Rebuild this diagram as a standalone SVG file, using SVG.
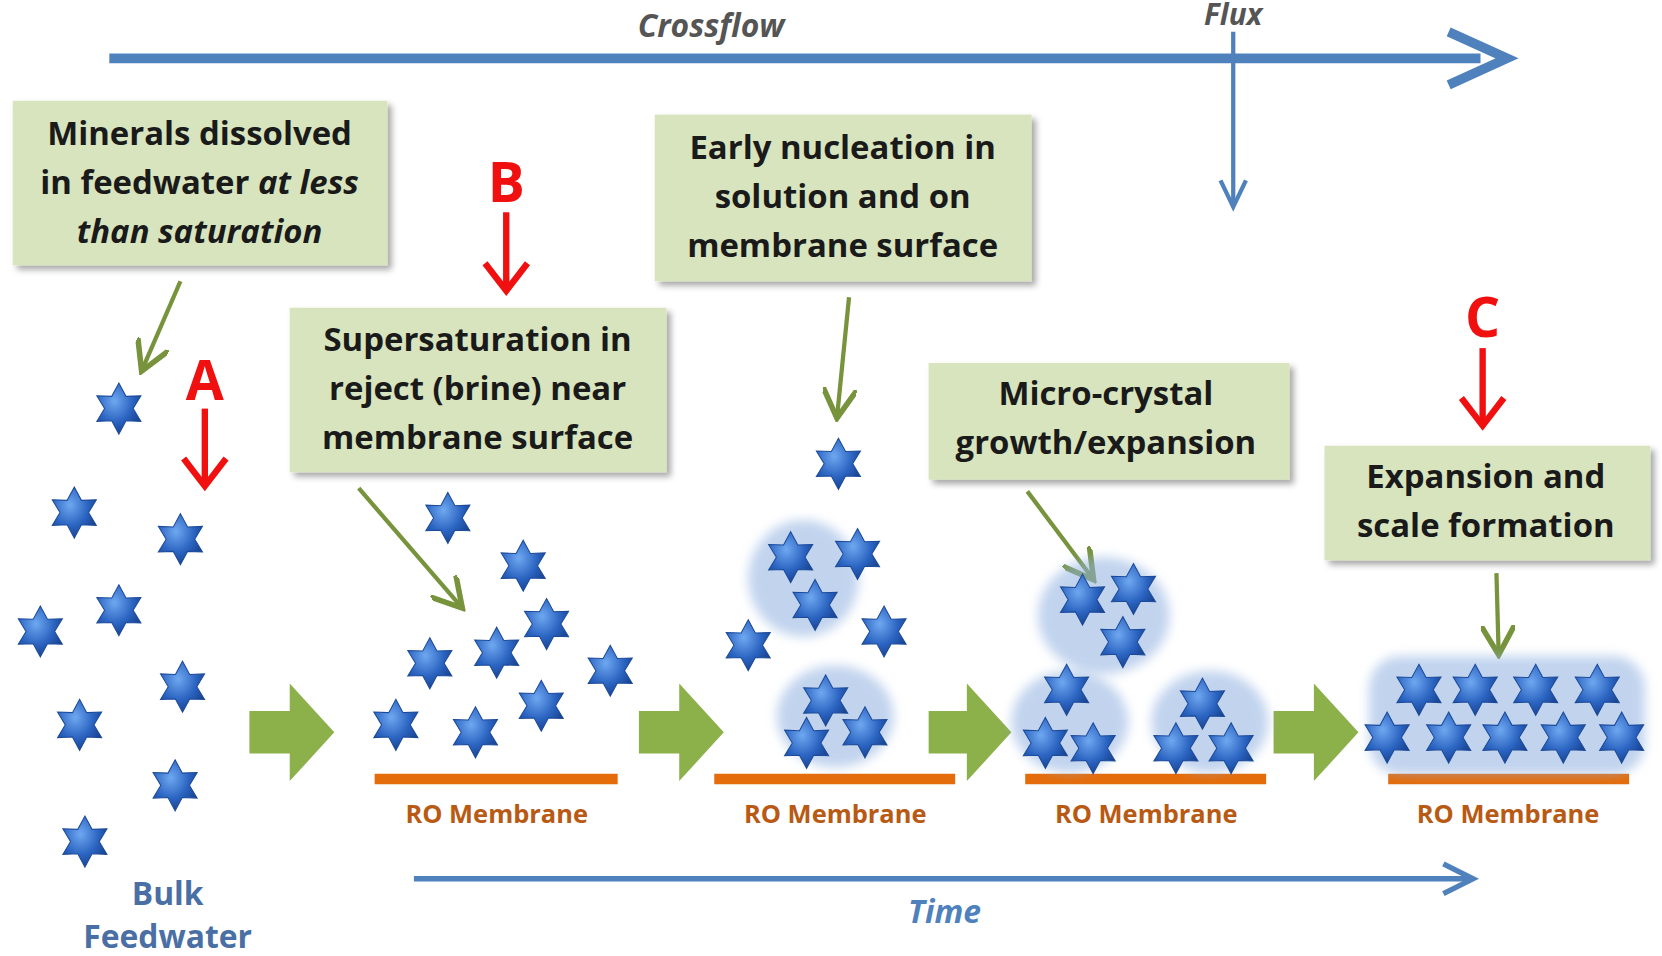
<svg xmlns="http://www.w3.org/2000/svg" width="1662" height="956" viewBox="0 0 1662 956">
<defs>
<radialGradient id="sg" cx="40%" cy="35%" r="70%"><stop offset="0" stop-color="#6fa8f0"/><stop offset="0.6" stop-color="#2a63c0"/><stop offset="1" stop-color="#173f8a"/></radialGradient>
<symbol id="star" viewBox="-26 -26 52 52" overflow="visible"><polygon points="0,-25 7,-12 21.6,-12.5 14,0 21.6,12.5 7,12 0,25 -7,12 -21.6,12.5 -14,0 -21.6,-12.5 -7,-12" fill="url(#sg)" stroke="#1b4a9a" stroke-width="1"/></symbol>
<filter id="sh" x="-10%" y="-10%" width="130%" height="130%"><feDropShadow dx="4" dy="4" stdDeviation="3" flood-color="#000" flood-opacity="0.35"/></filter>
<filter id="bl"><feGaussianBlur stdDeviation="5"/></filter>
<marker id="gh" markerWidth="8" markerHeight="8" refX="6" refY="4" orient="auto" markerUnits="strokeWidth"><path d="M0,0 L7,4 L0,8" fill="none" stroke="#77933c" stroke-width="1.3"/></marker>
</defs>
<style>
.box{fill:#d7e4bd;filter:url(#sh)}
.bt{font-family:"Open Sans","Liberation Sans",sans-serif;font-weight:bold;font-size:31px;fill:#1a1a1a;text-anchor:middle}
.gl{stroke:#77933c;stroke-width:4;fill:none;marker-end:url(#gh)}
.mem{stroke:#e46c0a;stroke-width:10}
.ml{font-family:"Open Sans","Liberation Sans",sans-serif;font-weight:bold;font-size:24px;fill:#b85a14;text-anchor:middle}
.red{font-family:"Open Sans","Liberation Sans",sans-serif;font-weight:bold;font-size:52px;fill:#f01010;text-anchor:middle}
.ga{fill:#8cb04a}
.cl{fill:#8fb0e0;opacity:0.55;filter:url(#bl)}
</style>
<g transform="scale(1.0613)">
<g id="connectors">
<line x1="103" y1="55" x2="1395" y2="55" stroke="#4f81bd" stroke-width="9"/>
<path d="M1365,30 L1420,55 L1365,80" fill="none" stroke="#4f81bd" stroke-width="9"/>
<line x1="1162" y1="30" x2="1162" y2="192" stroke="#4f81bd" stroke-width="4"/>
<path d="M1150,170 L1162,195 L1174,170" fill="none" stroke="#4f81bd" stroke-width="4"/>
<line x1="390" y1="828" x2="1385" y2="828" stroke="#4f81bd" stroke-width="5"/>
<path d="M1360,814 L1388,828 L1360,842" fill="none" stroke="#4f81bd" stroke-width="5"/>
<line class="gl" x1="170" y1="265" x2="135" y2="346"/>
<line class="gl" x1="338" y1="460" x2="433" y2="570"/>
<line class="gl" x1="800" y1="280" x2="789" y2="390"/>
<line class="gl" x1="968" y1="463" x2="1028" y2="543"/>
<line class="gl" x1="1410" y1="540" x2="1412" y2="613"/>
<g stroke="#f01010" stroke-width="6" fill="none">
<line x1="193" y1="385" x2="193" y2="455"/><path d="M173,432 L193,458 L213,432"/>
<line x1="477" y1="200" x2="477" y2="270"/><path d="M457,248 L477,274 L497,248"/>
<line x1="1397" y1="328" x2="1397" y2="398"/><path d="M1377,375 L1397,401 L1417,375"/>
</g>
<path class="ga" d="M235,670 h38 v-26 l42,46 l-42,46 v-26 h-38z"/>
<path class="ga" d="M602,670 h38 v-26 l42,46 l-42,46 v-26 h-38z"/>
<path class="ga" d="M875,670 h36 v-26 l42,46 l-42,46 v-26 h-36z"/>
<path class="ga" d="M1200,670 h38 v-26 l42,46 l-42,46 v-26 h-38z"/>
</g>
<text x="670" y="35" font-family="Open Sans,Liberation Sans,sans-serif" font-style="italic" font-weight="bold" font-size="30" fill="#555" text-anchor="middle">Crossflow</text>
<text x="1162" y="24" font-family="Open Sans,Liberation Sans,sans-serif" font-style="italic" font-weight="bold" font-size="28" fill="#555" text-anchor="middle">Flux</text>
<text x="890" y="870" font-family="Open Sans,Liberation Sans,sans-serif" font-style="italic" font-weight="bold" font-size="30" fill="#4f81bd" text-anchor="middle">Time</text>
<text x="158" y="853" font-family="Open Sans,Liberation Sans,sans-serif" font-weight="bold" font-size="30" fill="#4a6fa5" text-anchor="middle">Bulk</text>
<text x="158" y="893" font-family="Open Sans,Liberation Sans,sans-serif" font-weight="bold" font-size="30" fill="#4a6fa5" text-anchor="middle">Feedwater</text>
<text class="red" x="193" y="377">A</text>
<text class="red" x="477" y="190">B</text>
<text class="red" x="1397" y="318">C</text>
<g id="box1"><rect class="box" x="12" y="95" width="353" height="155"/><text class="bt" x="188" y="137">Minerals dissolved</text><text class="bt" x="188" y="183">in feedwater <tspan font-style="italic">at less</tspan></text><text class="bt" x="188" y="229" font-style="italic">than saturation</text></g>
<g id="box2"><rect class="box" x="273" y="290" width="355" height="155"/><text class="bt" x="450" y="331">Supersaturation in</text><text class="bt" x="450" y="377">reject (brine) near</text><text class="bt" x="450" y="423">membrane surface</text></g>
<g id="box3"><rect class="box" x="617" y="108" width="355" height="157"/><text class="bt" x="794" y="150">Early nucleation in</text><text class="bt" x="794" y="196">solution and on</text><text class="bt" x="794" y="242">membrane surface</text></g>
<g id="box4"><rect class="box" x="875" y="342" width="340" height="110"/><text class="bt" x="1042" y="382">Micro-crystal</text><text class="bt" x="1042" y="428">growth/expansion</text></g>
<g id="box5"><rect class="box" x="1248" y="420" width="307" height="108"/><text class="bt" x="1400" y="460">Expansion and</text><text class="bt" x="1400" y="506">scale formation</text></g>
<g id="membranes">
<line class="mem" x1="353" y1="734" x2="582" y2="734"/><text class="ml" x="468" y="775">RO Membrane</text>
<line class="mem" x1="673" y1="734" x2="900" y2="734"/><text class="ml" x="787" y="775">RO Membrane</text>
<line class="mem" x1="966" y1="734" x2="1193" y2="734"/><text class="ml" x="1080" y="775">RO Membrane</text>
<line class="mem" x1="1308" y1="734" x2="1535" y2="734"/><text class="ml" x="1421" y="775">RO Membrane</text>
</g>
<g id="clouds">
<ellipse class="cl" cx="757" cy="545" rx="52" ry="55"/>
<ellipse class="cl" cx="787" cy="675" rx="55" ry="48"/>
<ellipse class="cl" cx="1040" cy="580" rx="62" ry="55"/>
<ellipse class="cl" cx="1008" cy="680" rx="55" ry="48"/>
<ellipse class="cl" cx="1140" cy="680" rx="55" ry="48"/>
<rect class="cl" x="1290" y="618" width="260" height="112" rx="30"/>
</g>
<g id="stars">
<use href="#star" x="87" y="360" width="50" height="50"/>
<use href="#star" x="45" y="458" width="50" height="50"/>
<use href="#star" x="145" y="483" width="50" height="50"/>
<use href="#star" x="87" y="550" width="50" height="50"/>
<use href="#star" x="13" y="570" width="50" height="50"/>
<use href="#star" x="147" y="622" width="50" height="50"/>
<use href="#star" x="50" y="658" width="50" height="50"/>
<use href="#star" x="140" y="715" width="50" height="50"/>
<use href="#star" x="55" y="768" width="50" height="50"/>
<use href="#star" x="397" y="463" width="50" height="50"/>
<use href="#star" x="468" y="508" width="50" height="50"/>
<use href="#star" x="490" y="563" width="50" height="50"/>
<use href="#star" x="380" y="600" width="50" height="50"/>
<use href="#star" x="443" y="590" width="50" height="50"/>
<use href="#star" x="550" y="607" width="50" height="50"/>
<use href="#star" x="348" y="658" width="50" height="50"/>
<use href="#star" x="423" y="665" width="50" height="50"/>
<use href="#star" x="485" y="640" width="50" height="50"/>
<use href="#star" x="765" y="412" width="50" height="50"/>
<use href="#star" x="720" y="500" width="50" height="50"/>
<use href="#star" x="783" y="497" width="50" height="50"/>
<use href="#star" x="743" y="545" width="50" height="50"/>
<use href="#star" x="680" y="583" width="50" height="50"/>
<use href="#star" x="808" y="570" width="50" height="50"/>
<use href="#star" x="753" y="635" width="50" height="50"/>
<use href="#star" x="735" y="675" width="50" height="50"/>
<use href="#star" x="790" y="665" width="50" height="50"/>
<use href="#star" x="995" y="540" width="50" height="50"/>
<use href="#star" x="1043" y="530" width="50" height="50"/>
<use href="#star" x="1033" y="580" width="50" height="50"/>
<use href="#star" x="980" y="625" width="50" height="50"/>
<use href="#star" x="960" y="675" width="50" height="50"/>
<use href="#star" x="1005" y="680" width="50" height="50"/>
<use href="#star" x="1108" y="638" width="50" height="50"/>
<use href="#star" x="1083" y="680" width="50" height="50"/>
<use href="#star" x="1135" y="680" width="50" height="50"/>
<use href="#star" x="1312" y="625" width="50" height="50"/>
<use href="#star" x="1365" y="625" width="50" height="50"/>
<use href="#star" x="1422" y="625" width="50" height="50"/>
<use href="#star" x="1480" y="625" width="50" height="50"/>
<use href="#star" x="1282" y="670" width="50" height="50"/>
<use href="#star" x="1340" y="670" width="50" height="50"/>
<use href="#star" x="1393" y="670" width="50" height="50"/>
<use href="#star" x="1448" y="670" width="50" height="50"/>
<use href="#star" x="1503" y="670" width="50" height="50"/>
</g>
</g>
</svg>
